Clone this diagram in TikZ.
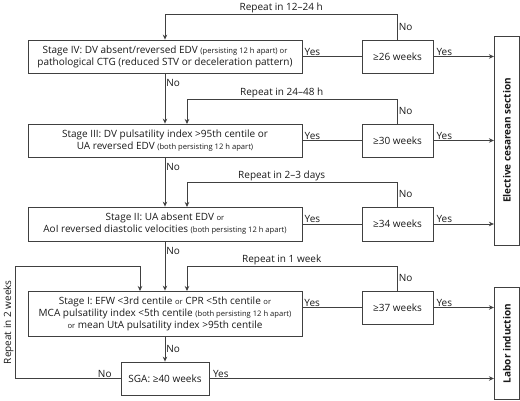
\documentclass[tikz,border=0pt]{standalone}
\usepackage{fontspec}
\setmainfont{Open Sans}
\usetikzlibrary{arrows.meta}
\definecolor{ln}{HTML}{404040}
\tikzset{
  box/.style={draw=ln, line width=0.8pt, inner sep=0pt, align=center, font=\fontsize{10}{12}\selectfont, text=black!90},
  lbl/.style={inner sep=1pt, font=\fontsize{10}{11}\selectfont, text=black!90},
  con/.style={draw=ln, line width=0.8pt},
  arr/.style={con, -{Stealth[length=5pt,width=4.5pt]}},
}
\newcommand{\sm}[1]{{\fontsize{7.6}{9}\selectfont #1}}
\begin{document}
\begin{tikzpicture}[x=1pt,y=-1pt]
\useasboundingbox (0,0) rectangle (520,401);
% stage boxes
\node[box, minimum width=274pt, minimum height=33pt] (s4) at (165,56.5)
  {Stage IV: DV absent/reversed EDV \sm{(persisting 12 h apart) or}\\pathological CTG (reduced STV or deceleration pattern)};
\node[box, minimum width=274pt, minimum height=33pt] (s3) at (165,140.5)
  {Stage III: DV pulsatility index >95th centile or\\UA reversed EDV \sm{(both persisting 12 h apart)}};
\node[box, minimum width=274pt, minimum height=34pt] (s2) at (165,224)
  {Stage II: UA absent EDV \sm{or}\\AoI reversed diastolic velocities \sm{(both persisting 12 h apart)}};
\node[box, minimum width=274pt, minimum height=45pt] (s1) at (165,313.5)
  {Stage I: EFW <3rd centile \sm{or} CPR <5th centile \sm{or}\\MCA pulsatility index <5th centile \sm{(both persisting 12 h apart)}\\\sm{or} mean UtA pulsatility index >95th centile};
\node[box, minimum width=88pt, minimum height=33pt] (sga) at (165,378.5) {SGA: ≥40 weeks};
% week boxes
\node[box, minimum width=71pt, minimum height=33pt] (w26) at (397.5,56.5) {≥26 weeks};
\node[box, minimum width=71pt, minimum height=33pt] (w30) at (397.5,140.5) {≥30 weeks};
\node[box, minimum width=71pt, minimum height=34pt] (w34) at (397.5,224) {≥34 weeks};
\node[box, minimum width=71pt, minimum height=33pt] (w37) at (397.5,307.5) {≥37 weeks};
% outcome boxes
\node[box, minimum width=209pt, minimum height=25pt, rotate=90, font=\fontsize{10}{12}\selectfont\bfseries] (ces) at (506.8,140.5) {Elective cesarean section};
\node[box, minimum width=112pt, minimum height=25pt, rotate=90, font=\fontsize{10}{12}\selectfont\bfseries] (lab) at (506.8,343.5) {Labor induction};
% main vertical
\draw[arr] (s4.south) -- node[lbl, right, pos=0.2] {No} (s3.north);
\draw[arr] (s3.south) -- node[lbl, right, pos=0.2] {No} (s2.north);
\draw[arr] (s2.south) -- node[lbl, right, pos=0.2] {No} (s1.north);
\draw[arr] (s1.south) -- node[lbl, right, pos=0.5] {No} (sga.north);
% yes lines
\draw[con] (s4.east) -- node[lbl, above, pos=0.17] {Yes} (w26.west);
\draw[arr] (w26.east) -- node[lbl, above, pos=0.18] {Yes} (w26.east -| ces.north);
\draw[con] (s3.east) -- node[lbl, above, pos=0.17] {Yes} (w30.west);
\draw[arr] (w30.east) -- node[lbl, above, pos=0.18] {Yes} (w30.east -| ces.north);
\draw[con] (s2.east) -- node[lbl, above, pos=0.17] {Yes} (w34.west);
\draw[arr] (w34.east) -- node[lbl, above, pos=0.18] {Yes} (w34.east -| ces.north);
\coordinate (s1y) at (302,307.5);
\draw[con] (s1y) -- node[lbl, above, pos=0.17] {Yes} (w37.west);
\draw[arr] (w37.east) -- node[lbl, above, pos=0.18] {Yes} (w37.east -| lab.north);
\draw[arr] (sga.east) -- node[lbl, above, pos=0.04] {Yes} (sga.east -| lab.north);
% repeat loops
\coordinate (l4a) at (397.5,14);
\draw[arr] (w26.north) -- node[lbl, right, pos=0.5] {No} (l4a) -- node[lbl, above, pos=0.5] {Repeat in 12–24 h} (l4a -| s4.north) -- (s4.north);
\coordinate (l3a) at (397.5,99);
\draw[arr] (w30.north) -- node[lbl, right, pos=0.5] {No} (l3a) -- node[lbl, above, pos=0.55] {Repeat in 24–48 h} (187,99) -- (187,124);
\coordinate (l2a) at (397.5,182);
\draw[arr] (w34.north) -- node[lbl, right, pos=0.5] {No} (l2a) -- node[lbl, above, pos=0.55] {Repeat in 2–3 days} (187,182) -- (187,207);
\coordinate (l1a) at (397.5,266);
\draw[arr] (w37.north) -- node[lbl, right, pos=0.5] {No} (l1a) -- node[lbl, above, pos=0.55] {Repeat in 1 week} (187,266) -- (187,291);
% left loop
\draw[arr] (sga.west) -- node[lbl, above, pos=0.15] {No} (15,378.5) -- node[lbl, above, sloped, pos=0.5] {Repeat in 2 weeks} (15,266) -- (140,266) -- (140,291);
\end{tikzpicture}
\end{document}
